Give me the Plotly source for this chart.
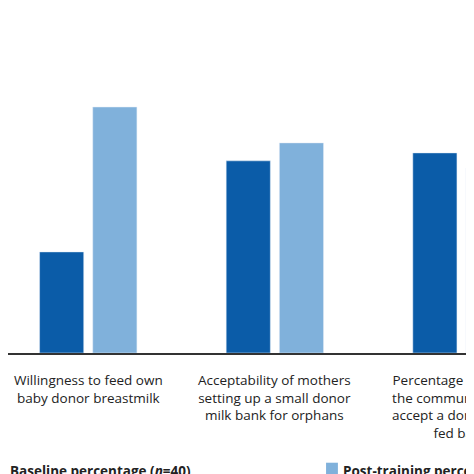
import plotly.graph_objects as go

categories = ["Willingness to feed own<br>baby donor breastmilk",
              "Acceptability of mothers<br>setting up a small donor<br>milk bank for orphans",
              "Percentage who think<br>the community would<br>accept a donor breast<br>fed baby"]
baseline = [29.3, 55.7, 58.0]
post = [71.3, 60.9, 53.6]
xpos = [0, 1, 2]

fig = go.Figure()
fig.add_bar(x=xpos, y=baseline, marker_color="#0b5ca8", name="Baseline percentage (<i>n</i>=40)")
fig.add_bar(x=xpos, y=post, marker_color="#80b1db", name="Post-training percentage")
fig.update_layout(
    width=474, height=474, barmode="group", bargap=0.43, bargroupgap=0.17,
    margin=dict(l=0, r=0, t=0, b=129, pad=0, autoexpand=False),
    plot_bgcolor="white", paper_bgcolor="white",
    showlegend=False, font=dict(family="Open Sans", size=14, color="#222"),
    xaxis=dict(range=[-0.43, 2.11], showticklabels=False, showline=True, automargin=False,
               linecolor="#333", linewidth=1.5, ticks="", showgrid=False),
    yaxis=dict(range=[0, 100], showticklabels=False, showgrid=False, zeroline=False, automargin=False,
               showline=True, linecolor="#333", linewidth=1.5),
)
for x, t in zip(xpos, categories):
    fig.add_annotation(x=x, xref="x", yref="paper", y=-0.045, yanchor="top", showarrow=False,
                       text=t, font=dict(size=13.5), align="center")
fig.add_shape(type="rect", xref="paper", yref="paper", x0=0.671, x1=0.696, y0=-0.318, y1=-0.366,
              fillcolor="#80b1db", line_width=0)
fig.add_annotation(xref="paper", yref="paper", x=0.0, y=-0.342, xanchor="left", yanchor="middle",
                   showarrow=False, text="<b>Baseline percentage (<i>n</i>=40)</b>", font=dict(size=13.5))
fig.add_annotation(xref="paper", yref="paper", x=0.703, y=-0.342, xanchor="left", yanchor="middle",
                   showarrow=False, text="<b>Post-training percentage</b>", font=dict(size=13.5))
fig.write_html("out.html")
